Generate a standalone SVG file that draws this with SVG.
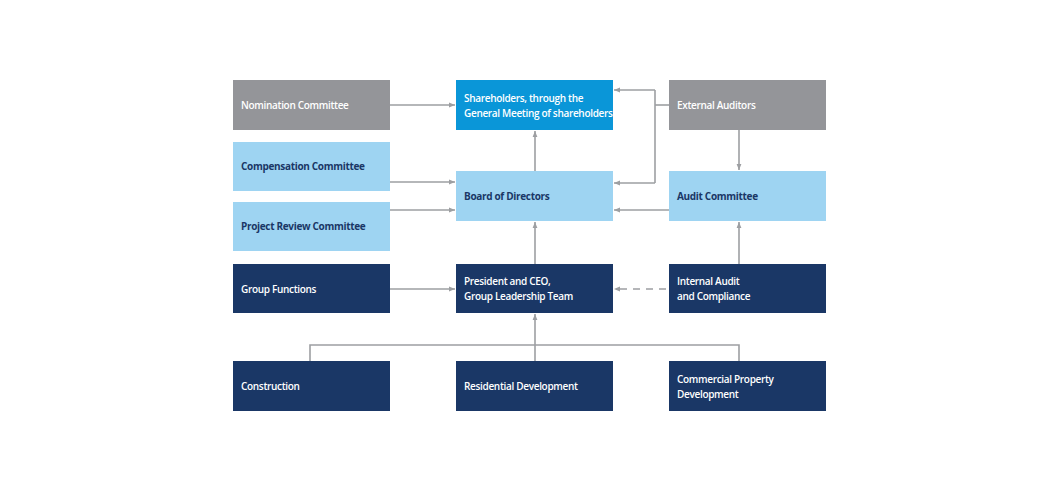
<svg xmlns="http://www.w3.org/2000/svg" width="1054" height="499" viewBox="0 0 1054 499">
<style>
.gray{fill:#949599}
.lb{fill:#9ed4f2}
.bb{fill:#0a96d8}
.nv{fill:#1a3766}
text{font-family:"Open Sans","Noto Sans",sans-serif;font-size:10px;font-weight:600;letter-spacing:-0.32px}
.w{fill:#ffffff}
.d{fill:#1a3766;font-weight:700}
.c{stroke:#9d9fa2;stroke-width:1.6;fill:none}
</style>
<defs>
<marker id="ah" viewBox="0 0 10 10" refX="10" refY="5" markerWidth="6" markerHeight="6" markerUnits="userSpaceOnUse" orient="auto">
<path d="M0,1 L10,5 L0,9 z" fill="#9d9fa2"/>
</marker>
</defs>
<rect width="1054" height="499" fill="#ffffff"/>
<g id="connectors">
<line class="c" x1="390" y1="105" x2="455" y2="105" marker-end="url(#ah)"/>
<line class="c" x1="390" y1="182" x2="455" y2="182" marker-end="url(#ah)"/>
<line class="c" x1="390" y1="210" x2="455" y2="210" marker-end="url(#ah)"/>
<line class="c" x1="535" y1="171" x2="535" y2="131" marker-end="url(#ah)"/>
<line class="c" x1="535" y1="264" x2="535" y2="222" marker-end="url(#ah)"/>
<line class="c" x1="669" y1="105" x2="655" y2="105"/>
<polyline class="c" points="655,90 655,183"/>
<line class="c" x1="655" y1="90" x2="614" y2="90" marker-end="url(#ah)"/>
<line class="c" x1="655" y1="183" x2="614" y2="183" marker-end="url(#ah)"/>
<line class="c" x1="669" y1="210" x2="614" y2="210" marker-end="url(#ah)"/>
<line class="c" x1="739" y1="130" x2="739" y2="170" marker-end="url(#ah)"/>
<line class="c" x1="739" y1="264" x2="739" y2="222" marker-end="url(#ah)"/>
<line class="c" x1="390" y1="289" x2="455" y2="289" marker-end="url(#ah)"/>
<line class="c" x1="666" y1="289" x2="614" y2="289" stroke-dasharray="7,6" marker-end="url(#ah)"/>
<polyline class="c" points="310,361 310,345 739,345 739,361"/>
<line class="c" x1="535" y1="361" x2="535" y2="314" marker-end="url(#ah)"/>
</g>
<g id="nomination"><rect class="gray" x="233" y="80" width="157" height="50"/><text class="w" x="241" y="109">Nomination Committee</text></g>
<g id="shareholders"><rect class="bb" x="456" y="80" width="157" height="50"/><text class="w" x="464" y="102">Shareholders, through the</text><text class="w" x="464" y="117">General Meeting of shareholders</text></g>
<g id="external-auditors"><rect class="gray" x="669" y="80" width="157" height="50"/><text class="w" x="677" y="109">External Auditors</text></g>
<g id="compensation"><rect class="lb" x="233" y="142" width="157" height="49"/><text class="d" x="241" y="170">Compensation Committee</text></g>
<g id="board"><rect class="lb" x="456" y="171" width="157" height="50"/><text class="d" x="464" y="200">Board of Directors</text></g>
<g id="audit-committee"><rect class="lb" x="669" y="171" width="157" height="50"/><text class="d" x="677" y="200">Audit Committee</text></g>
<g id="project-review"><rect class="lb" x="233" y="202" width="157" height="49"/><text class="d" x="241" y="230">Project Review Committee</text></g>
<g id="group-functions"><rect class="nv" x="233" y="264" width="157" height="49"/><text class="w" x="241" y="293">Group Functions</text></g>
<g id="president"><rect class="nv" x="456" y="264" width="157" height="49"/><text class="w" x="464" y="285">President and CEO,</text><text class="w" x="464" y="300">Group Leadership Team</text></g>
<g id="internal-audit"><rect class="nv" x="669" y="264" width="157" height="49"/><text class="w" x="677" y="285">Internal Audit</text><text class="w" x="677" y="300">and Compliance</text></g>
<g id="construction"><rect class="nv" x="233" y="361" width="157" height="50"/><text class="w" x="241" y="390">Construction</text></g>
<g id="residential"><rect class="nv" x="456" y="361" width="157" height="50"/><text class="w" x="464" y="390">Residential Development</text></g>
<g id="commercial"><rect class="nv" x="669" y="361" width="157" height="50"/><text class="w" x="677" y="383">Commercial Property</text><text class="w" x="677" y="398">Development</text></g>
</svg>
